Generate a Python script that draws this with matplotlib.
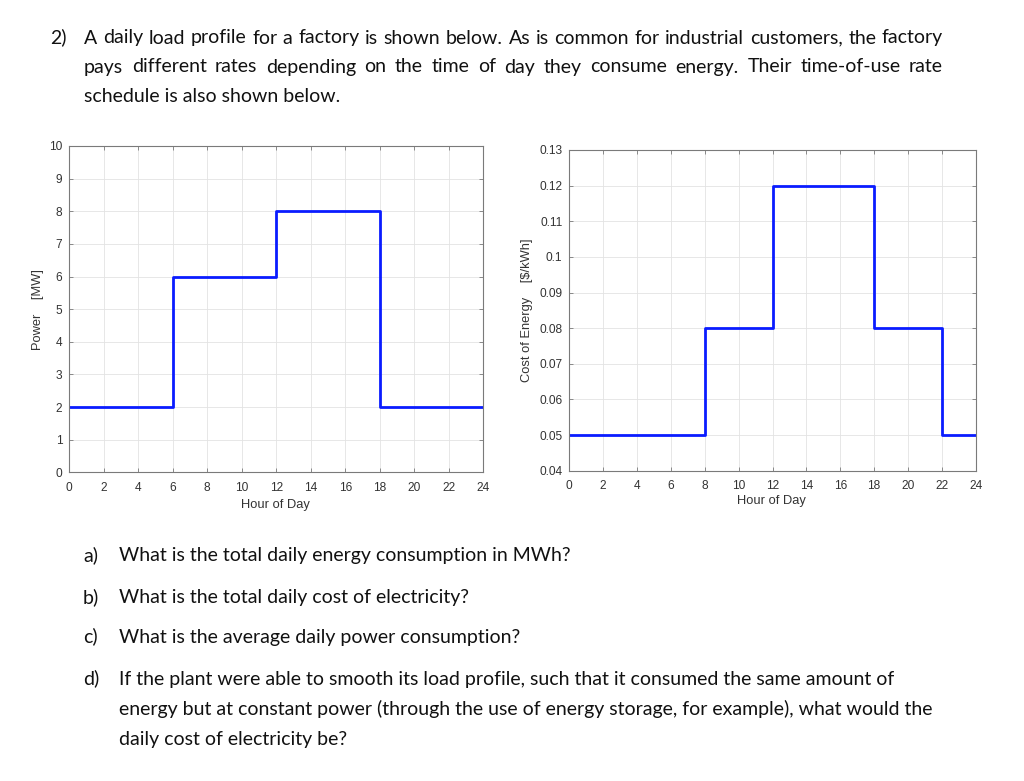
import numpy as np
import matplotlib
matplotlib.use("Agg")
import matplotlib.pyplot as plt

# data
hours = [0, 6, 12, 18, 24]
power_mw = [2, 6, 8, 2]
rate_hours = [0, 8, 12, 18, 22, 24]
rate_cost = [0.05, 0.08, 0.12, 0.08, 0.05]
x_ticks = list(range(0, 25, 2))
p_ticks = list(range(0, 11))
c_ticks = [0.04, 0.05, 0.06, 0.07, 0.08, 0.09, 0.10, 0.11, 0.12, 0.13]
c_tick_labels = ["0.04", "0.05", "0.06", "0.07", "0.08", "0.09", "0.1", "0.11", "0.12", "0.13"]

intro = [
    "A daily load profile for a factory is shown below. As is common for industrial customers, the factory",
    "pays different rates depending on the time of day they consume energy. Their time-of-use rate",
    "schedule is also shown below.",
]
questions = [
    ("a)", ["What is the total daily energy consumption in MWh?"]),
    ("b)", ["What is the total daily cost of electricity?"]),
    ("c)", ["What is the average daily power consumption?"]),
    ("d)", ["If the plant were able to smooth its load profile, such that it consumed the same amount of",
            "energy but at constant power (through the use of energy storage, for example), what would the",
            "daily cost of electricity be?"]),
]

W, H = 1024, 781
fig = plt.figure(figsize=(W / 100, H / 100), dpi=100)
fig.patch.set_facecolor("white")

TXT_FONT = "Lato"
TXT_SIZE = 14.0
BASE = 5.5  # baseline sits this far below the line's middle


def fx(px):
    return px / W


def fy(py):
    return 1 - py / H


def put(x, y, s, **kw):
    return fig.text(fx(x), fy(y + BASE), s, family=TXT_FONT, fontsize=TXT_SIZE,
                    va="baseline", ha="left", color="#111111", **kw)


renderer = fig.canvas.get_renderer()


def justified(x0, x1, y, line):
    words = line.split(" ")
    arts = [put(x0, y, w) for w in words]
    widths = [a.get_window_extent(renderer).width for a in arts]
    gap = (x1 - x0 - sum(widths)) / (len(words) - 1)
    x = x0
    for a, w in zip(arts, widths):
        a.set_x(fx(x))
        x += w + gap


# intro paragraph
put(50, 38, "2)")
justified(84, 943, 38, intro[0])
justified(84, 943, 67, intro[1])
put(84, 97, intro[2])

# questions
q_y = [[556], [598], [637], [679, 709, 740]]
for (lab, lines), ys in zip(questions, q_y):
    put(83, ys[0], lab)
    for ln, yy in zip(lines, ys):
        put(119, yy, ln)

LBL = dict(family="Liberation Sans", fontsize=9.3, color="#333333")


def style_axes(ax):
    ax.grid(True, color="#e3e3e3", linewidth=0.6)
    ax.set_axisbelow(True)
    for sp in ax.spines.values():
        sp.set_color("#7a7a7a")
        sp.set_linewidth(0.8)
    ax.tick_params(direction="in", length=3, width=0.6, color="#7a7a7a",
                   top=True, right=True, labelsize=8.6, labelcolor="#333333", pad=5)
    ax.tick_params(axis="x", pad=7)
    for lbl in ax.get_xticklabels() + ax.get_yticklabels():
        lbl.set_family("Liberation Sans")


def place_labels(ax, left, right, top, bottom, xl_y, yl_x):
    w = right - left
    h = bottom - top
    ax.xaxis.label.set_va("center")
    ax.yaxis.label.set_va("center")
    ax.xaxis.set_label_coords(0.497, (bottom - xl_y) / h)
    ax.yaxis.set_label_coords((yl_x - left) / w, 0.5)


ax1 = fig.add_axes([fx(69.3), fy(472.3), fx(483.3) - fx(69.3), (472.3 - 146) / H])
ax1.plot(hours, power_mw + [power_mw[-1]], drawstyle="steps-post", color="#0a1cff", lw=2.0)
ax1.set_xlim(0, 24)
ax1.set_ylim(0, 10)
ax1.set_xticks(x_ticks)
ax1.set_yticks(p_ticks)
style_axes(ax1)
ax1.set_xlabel("Hour of Day", **LBL)
ax1.set_ylabel("Power    [MW]", **LBL)
place_labels(ax1, 69.3, 483.3, 146, 472.3, 505, 38)

ax2 = fig.add_axes([fx(569.3), fy(470.7), fx(975.7) - fx(569.3), (470.7 - 150) / H])
ax2.plot(rate_hours, rate_cost + [rate_cost[-1]], drawstyle="steps-post", color="#0a1cff", lw=2.0)
ax2.set_xlim(0, 24)
ax2.set_ylim(0.04, 0.13)
ax2.set_xticks(x_ticks)
ax2.set_yticks(c_ticks)
ax2.set_yticklabels(c_tick_labels)
style_axes(ax2)
ax2.set_xlabel("Hour of Day", **LBL)
ax2.set_ylabel("Cost of Energy    [$/kWh]", **LBL)
place_labels(ax2, 569.3, 975.7, 150, 470.7, 501, 527)

fig.savefig("out.png", dpi=100, facecolor="white")
